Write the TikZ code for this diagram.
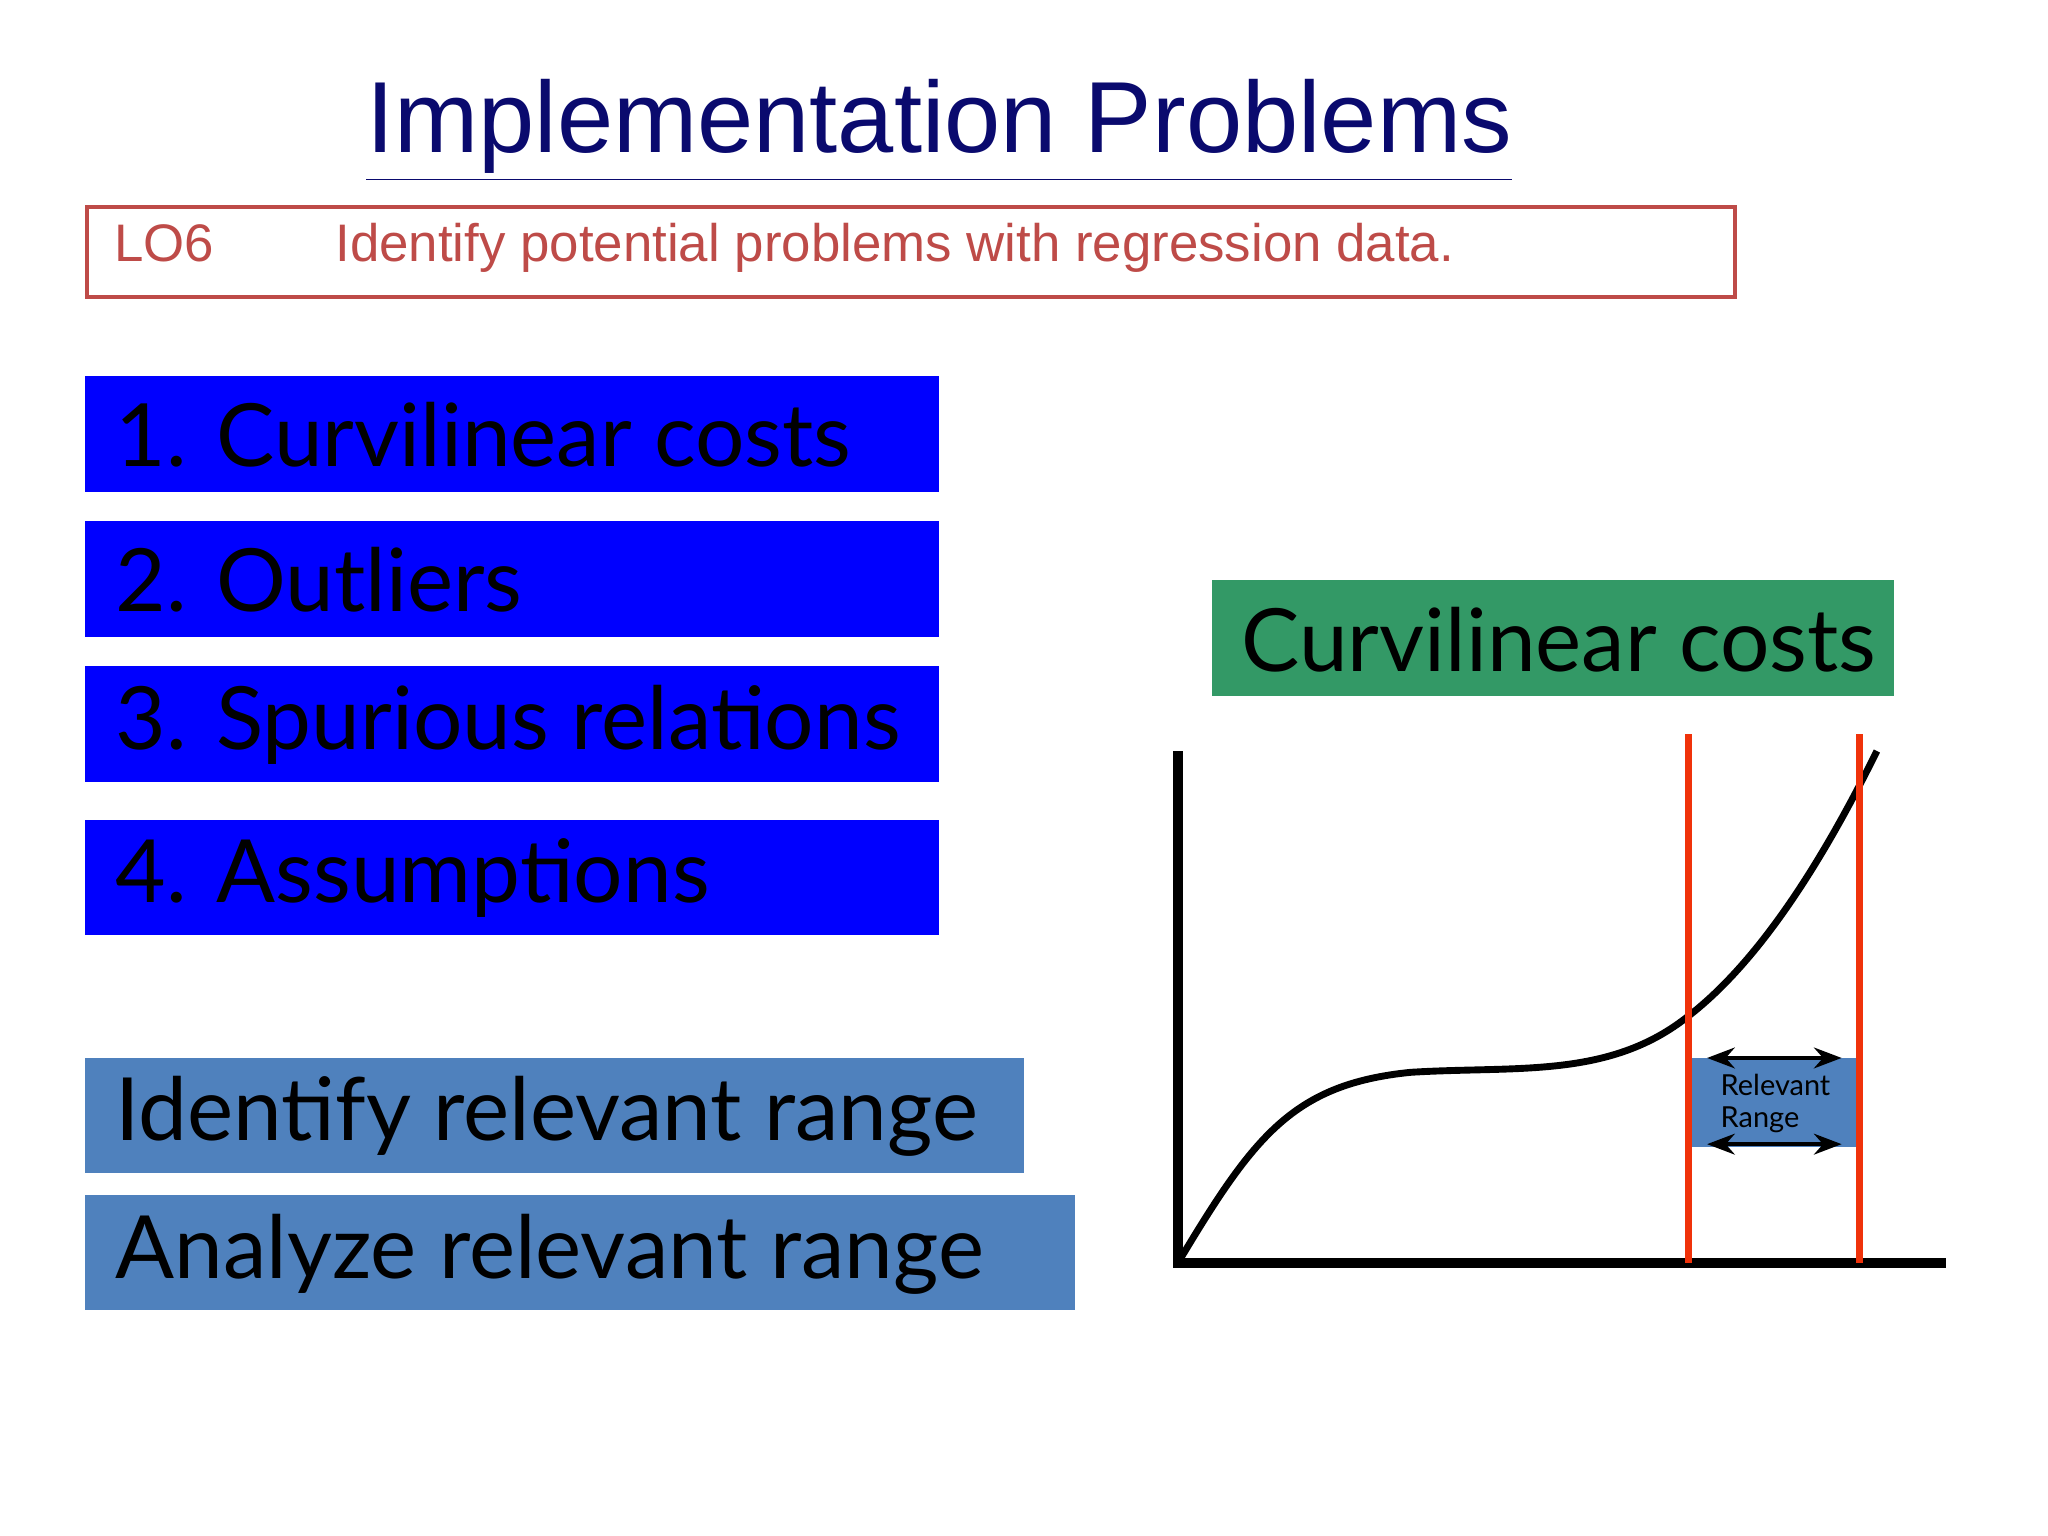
\documentclass[tikz,border=0pt]{standalone}
\usepackage{fontspec}
\setmainfont{Liberation Sans}
\newfontfamily\geo{Lato}
\usetikzlibrary{arrows.meta}
\definecolor{navy}{RGB}{10,10,110}
\definecolor{lored}{RGB}{190,75,72}
\definecolor{bblue}{RGB}{0,0,255}
\definecolor{sblue}{RGB}{79,129,189}
\definecolor{sgreen}{RGB}{51,153,102}
\definecolor{rline}{RGB}{240,50,10}
\tikzset{
  item/.style={fill=bblue,minimum height=0.89cm,text width=6.3cm,inner sep=0pt,align=left,anchor=west,font=\geo\fontsize{19}{19}\selectfont,text=black},
  range/.style={fill=sblue,minimum height=0.89cm,inner sep=0pt,anchor=west,font=\geo\fontsize{19}{19}\selectfont,text=black,align=left}
}
\begin{document}
\begin{tikzpicture}[x=0.01cm,y=-0.01cm]
\useasboundingbox (0,0) rectangle (1568,1176);
\node[font=\fontsize{22}{22}\selectfont,text=navy] (title) at (719,100) {\underline{Implementation Problems}};
\node[draw=lored,line width=0.8pt,minimum width=12.61cm,minimum height=0.69cm,anchor=north west,inner sep=0pt] (lo) at (65,157) {};
\node[text=lored,font=\fontsize{11.5}{12}\selectfont,anchor=west] (lot) at (75,190) {LO6\hspace{2.3em}Identify potential problems with regression data.};
\fill[bblue] (65,288) rectangle (719,377);
\node[font=\geo\fontsize{19}{19}\selectfont,anchor=west] (i1) at (76,333) {1. Curvilinear costs};
\fill[bblue] (65,399) rectangle (719,488);
\node[font=\geo\fontsize{19}{19}\selectfont,anchor=west] (i2) at (76,444) {2. Outliers};
\fill[bblue] (65,510) rectangle (719,599);
\node[font=\geo\fontsize{19}{19}\selectfont,anchor=west] (i3) at (76,555) {3. Spurious relations};
\fill[bblue] (65,628) rectangle (719,716);
\node[font=\geo\fontsize{19}{19}\selectfont,anchor=west] (i4) at (76,672) {4. Assumptions};
\fill[sblue] (65,810) rectangle (784,898);
\node[font=\geo\fontsize{19}{19}\selectfont,anchor=west] (r1) at (76,855) {Identify relevant range};
\fill[sblue] (65,915) rectangle (823,1003);
\node[font=\geo\fontsize{19}{19}\selectfont,anchor=west] (r2) at (76,960) {Analyze relevant range};
\fill[sgreen] (928,444) rectangle (1450,533);
\node[font=\geo\fontsize{19}{19}\selectfont,anchor=west] (cc) at (938,490) {Curvilinear costs};
% graph
\fill[sblue] (1295,810) rectangle (1422,878);
\node[font=\geo\fontsize{6.3}{7}\selectfont,align=left,anchor=west] (rr) at (1305,845) {Relevant\\Range};
\coordinate (a1) at (1307,810); \coordinate (a2) at (1410,810);
\coordinate (b1) at (1307,876); \coordinate (b2) at (1410,876);
\draw[{Stealth[length=6pt]}-{Stealth[length=6pt]},line width=1pt] (a1) -- (a2);
\draw[{Stealth[length=6pt]}-{Stealth[length=6pt]},line width=1pt] (b1) -- (b2);
\coordinate (o) at (902,967); \coordinate (yt) at (902,575); \coordinate (xr) at (1490,967);
\draw[line width=2.2pt] (yt) -- (o) -- (xr);
\draw[line width=1.5pt] (903,965) .. controls (960,870) and (990,830) .. (1080,821)
  .. controls (1160,816) and (1230,826) .. (1290,780)
  .. controls (1350,735) and (1400,650) .. (1437,575);
\draw[rline,line width=1.5pt] (1293,562) -- (1293,967);
\draw[rline,line width=1.5pt] (1424,562) -- (1424,967);
\end{tikzpicture}
\end{document}
